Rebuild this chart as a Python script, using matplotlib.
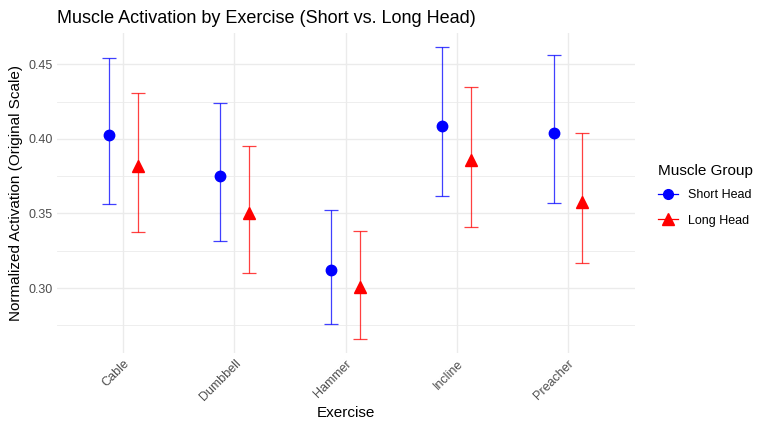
import numpy as np
import matplotlib.pyplot as plt
from matplotlib.lines import Line2D

# Données
exercises = ["Cable", "Dumbbell", "Hammer", "Incline", "Preacher"]
short_mean = [0.4026, 0.3751, 0.3118, 0.4086, 0.4042]
short_low = [0.3564, 0.3318, 0.2758, 0.3615, 0.3572]
short_high = [0.4544, 0.4239, 0.3523, 0.4614, 0.4564]
long_mean = [0.3815, 0.3505, 0.3005, 0.3858, 0.3579]
long_low = [0.3376, 0.3099, 0.2660, 0.3409, 0.3166]
long_high = [0.4306, 0.3952, 0.3383, 0.4350, 0.4038]

plt.rcParams['font.family'] = ['Liberation Sans', 'DejaVu Sans']

fig = plt.figure(figsize=(7.68, 4.34), dpi=100)
ax = fig.add_axes([0.0737, 0.1857, 0.7527, 0.739])

x = np.arange(len(exercises))
dodge = 0.13

def draw(xpos, mean, low, high, color, marker, ms):
    mean = np.array(mean)
    yerr = [mean - np.array(low), np.array(high) - mean]
    ax.errorbar(xpos, mean, yerr=yerr, fmt='none', ecolor=color, alpha=0.75,
                elinewidth=0.9, capsize=5, capthick=0.9, zorder=3)
    ax.plot(xpos, mean, linestyle='none', marker=marker, color=color,
            markersize=ms, zorder=4)

draw(x - dodge, short_mean, short_low, short_high, 'blue', 'o', 7.5)
draw(x + dodge, long_mean, long_low, long_high, 'red', '^', 8.5)

ax.set_xlim(-0.6, len(exercises) - 0.4)
ax.set_ylim(0.2562, 0.4712)
ax.set_xticks(x)
ax.set_xticklabels(exercises, rotation=45, ha='right', rotation_mode='anchor',
                   fontsize=9, color='#4D4D4D')
ax.set_yticks([0.30, 0.35, 0.40, 0.45])
ax.set_yticklabels(["0.30", "0.35", "0.40", "0.45"], fontsize=9, color='#4D4D4D')
ax.set_yticks([0.275, 0.325, 0.375, 0.425], minor=True)
ax.tick_params(axis='both', which='both', length=0, pad=3)
ax.grid(which='major', color='#EBEBEB', linewidth=1.0)
ax.grid(which='minor', axis='y', color='#EBEBEB', linewidth=0.6)
ax.set_axisbelow(True)
for s in ax.spines.values():
    s.set_visible(False)

ax.set_xlabel("Exercise", fontsize=11, labelpad=2)
ax.set_ylabel("Normalized Activation (Original Scale)", fontsize=11)
fig.text(0.0737, 0.958, "Muscle Activation by Exercise (Short vs. Long Head)",
         fontsize=13, va='center', ha='left')

handles = [
    Line2D([0], [0], color='blue', marker='o', markersize=7, linewidth=0.9, label='Short Head'),
    Line2D([0], [0], color='red', marker='^', markersize=8, linewidth=0.9, label='Long Head'),
]
leg = fig.legend(handles=handles, title="Muscle Group", loc='center left',
                 bbox_to_anchor=(0.842, 0.55), frameon=False, fontsize=9,
                 title_fontsize=11, handlelength=1.6, labelspacing=1.1)
leg._legend_box.align = "left"
leg._legend_box.sep = 8

fig.savefig("out.png", dpi=100)
